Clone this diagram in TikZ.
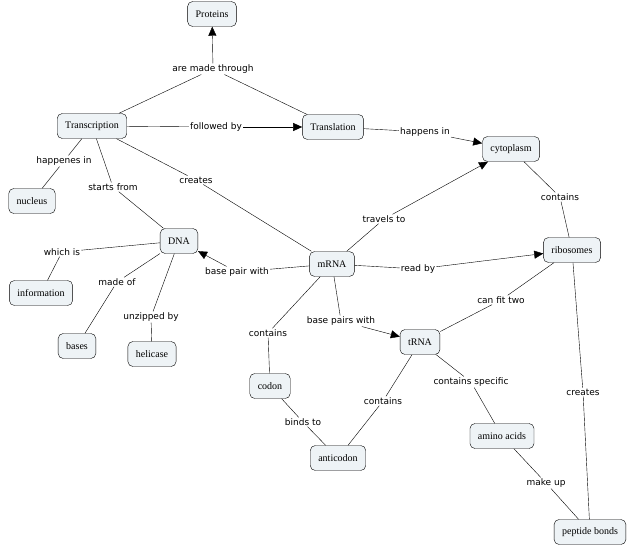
\documentclass[tikz,border=0pt]{standalone}
\usepackage{fontspec}
\setmainfont{Liberation Serif}
\newfontfamily\linkfont{DejaVu Sans}
\usetikzlibrary{arrows.meta}
\tikzset{
  concept/.style={draw, rounded corners=5pt, fill={rgb,255:red,238;green,243;blue,246},
    font=\fontsize{10}{12}\selectfont, minimum height=25pt, inner xsep=8pt},
  link/.style={fill=white, inner sep=1pt, font=\linkfont\fontsize{9}{11}\selectfont},
  to/.style={-{Triangle[width=8pt,length=9pt]}}
}
\begin{document}
\begin{tikzpicture}[x=1pt,y=-1pt]
\useasboundingbox (0,0) rectangle (638,551);
% concepts
\node[concept] (proteins) at (212,14) {Proteins};
\node[concept] (transcription) at (92,126) {Transcription};
\node[concept] (translation) at (333,127) {Translation};
\node[concept] (cytoplasm) at (511,149) {cytoplasm};
\node[concept] (nucleus) at (32,201) {nucleus};
\node[concept] (dna) at (179,241) {DNA};
\node[concept] (mrna) at (332,264) {mRNA};
\node[concept] (ribosomes) at (572,250) {ribosomes};
\node[concept] (information) at (41,293) {information};
\node[concept] (bases) at (77,346) {bases};
\node[concept] (helicase) at (152,354) {helicase};
\node[concept] (trna) at (420,342) {tRNA};
\node[concept] (codon) at (270,386) {codon};
\node[concept] (aminoacids) at (502,436) {amino acids};
\node[concept] (anticodon) at (338,458) {anticodon};
\node[concept] (peptide) at (590,532) {peptide bonds};
% links
\node[link] (madethrough) at (213,69) {are made through};
\node[link] (followedby) at (216,127) {followed by};
\node[link] (happensin) at (425,132) {happens in};
\node[link] (happenesin) at (64,161) {happenes in};
\node[link] (startsfrom) at (113,187) {starts from};
\node[link] (createsm) at (196,180) {creates};
\node[link] (containsr) at (560,197) {contains};
\node[link] (travelsto) at (384,219) {travels to};
\node[link] (whichis) at (62,252) {which is};
\node[link] (basepair) at (237,272) {base pair with};
\node[link] (readby) at (418,269) {read by};
\node[link] (madeof) at (117,282) {made of};
\node[link] (unzipped) at (151,317) {unzipped by};
\node[link] (canfit) at (501,300) {can fit two};
\node[link] (containsc) at (268,333) {contains};
\node[link] (basepairs) at (341,321) {base pairs with};
\node[link] (specific) at (471,382) {contains specific};
\node[link] (createsp) at (583,392) {creates};
\node[link] (containsa) at (383,401) {contains};
\node[link] (bindsto) at (303,422) {binds to};
\node[link] (makeup) at (546,483) {make up};
% connectors
\draw (transcription) -- (madethrough);
\draw (translation) -- (madethrough);
\draw[to] (madethrough) -- (proteins);
\draw (transcription) -- (followedby);
\draw[to] (followedby) -- (translation);
\draw (translation) -- (happensin);
\draw[to] (happensin) -- (cytoplasm);
\draw (transcription) -- (happenesin) -- (nucleus);
\draw (transcription) -- (startsfrom) -- (dna);
\draw (transcription) -- (createsm) -- (mrna);
\draw (cytoplasm) -- (containsr) -- (ribosomes);
\draw (mrna) -- (travelsto);
\draw[to] (travelsto) -- (cytoplasm);
\draw (dna) -- (whichis) -- (information);
\draw (mrna) -- (basepair);
\draw[to] (basepair) -- (dna);
\draw (mrna) -- (readby);
\draw[to] (readby) -- (ribosomes);
\draw (dna) -- (madeof) -- (bases);
\draw (dna) -- (unzipped) -- (helicase);
\draw (ribosomes) -- (canfit) -- (trna);
\draw (mrna) -- (containsc) -- (codon);
\draw (mrna) -- (basepairs);
\draw[to] (basepairs) -- (trna);
\draw (trna) -- (specific) -- (aminoacids);
\draw (ribosomes) -- (createsp) -- (peptide);
\draw (trna) -- (containsa) -- (anticodon);
\draw (codon) -- (bindsto) -- (anticodon);
\draw (aminoacids) -- (makeup) -- (peptide);
\end{tikzpicture}
\end{document}
